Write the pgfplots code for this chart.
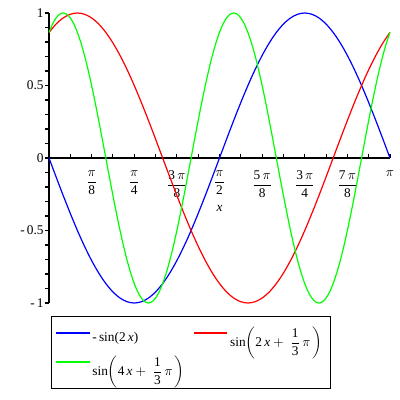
\documentclass[border=0pt]{standalone}
\usepackage{amsmath}
\usepackage{fontspec}
\setmainfont{Liberation Serif}
\usepackage{pgfplots}
\pgfplotsset{compat=1.18}
\usepackage{pgfplotstable}

\pgfplotstableread{
x blue red
0 0 0.866
0.06545 -0.1305 0.9239
0.1309 -0.2588 0.9659
0.19635 -0.3827 0.9914
0.2618 -0.5 1
0.32725 -0.6088 0.9914
0.3927 -0.7071 0.9659
0.45815 -0.7934 0.9239
0.5236 -0.866 0.866
0.58905 -0.9239 0.7934
0.6545 -0.9659 0.7071
0.71995 -0.9914 0.6088
0.7854 -1 0.5
0.85085 -0.9914 0.3827
0.9163 -0.9659 0.2588
0.98175 -0.9239 0.1305
1.0472 -0.866 0
1.11265 -0.7934 -0.1305
1.1781 -0.7071 -0.2588
1.24355 -0.6088 -0.3827
1.309 -0.5 -0.5
1.37445 -0.3827 -0.6088
1.4399 -0.2588 -0.7071
1.50535 -0.1305 -0.7934
1.5708 0 -0.866
1.63625 0.1305 -0.9239
1.7017 0.2588 -0.9659
1.76715 0.3827 -0.9914
1.8326 0.5 -1
1.89805 0.6088 -0.9914
1.9635 0.7071 -0.9659
2.02895 0.7934 -0.9239
2.0944 0.866 -0.866
2.15985 0.9239 -0.7934
2.2253 0.9659 -0.7071
2.29075 0.9914 -0.6088
2.3562 1 -0.5
2.42165 0.9914 -0.3827
2.4871 0.9659 -0.2588
2.55255 0.9239 -0.1305
2.618 0.866 0
2.68345 0.7934 0.1305
2.7489 0.7071 0.2588
2.81435 0.6088 0.3827
2.8798 0.5 0.5
2.94525 0.3827 0.6088
3.0107 0.2588 0.7071
3.07615 0.1305 0.7934
3.14159 0 0.866
}\tabBR

\pgfplotstableread{
x green
0 0.866
0.03272 0.9239
0.06545 0.9659
0.09817 0.9914
0.1309 1
0.16362 0.9914
0.19635 0.9659
0.22907 0.9239
0.2618 0.866
0.29452 0.7934
0.32725 0.7071
0.35997 0.6088
0.3927 0.5
0.42542 0.3827
0.45815 0.2588
0.49087 0.1305
0.5236 0
0.55632 -0.1305
0.58905 -0.2588
0.62177 -0.3827
0.6545 -0.5
0.68722 -0.6088
0.71995 -0.7071
0.75267 -0.7934
0.7854 -0.866
0.81812 -0.9239
0.85085 -0.9659
0.88357 -0.9914
0.9163 -1
0.94902 -0.9914
0.98175 -0.9659
1.01447 -0.9239
1.0472 -0.866
1.07992 -0.7934
1.11265 -0.7071
1.14537 -0.6088
1.1781 -0.5
1.21082 -0.3827
1.24355 -0.2588
1.27627 -0.1305
1.309 0
1.34172 0.1305
1.37445 0.2588
1.40717 0.3827
1.4399 0.5
1.47262 0.6088
1.50535 0.7071
1.53807 0.7934
1.5708 0.866
1.60352 0.9239
1.63625 0.9659
1.66897 0.9914
1.7017 1
1.73442 0.9914
1.76715 0.9659
1.79987 0.9239
1.8326 0.866
1.86532 0.7934
1.89805 0.7071
1.93077 0.6088
1.9635 0.5
1.99622 0.3827
2.02895 0.2588
2.06167 0.1305
2.0944 0
2.12712 -0.1305
2.15985 -0.2588
2.19257 -0.3827
2.2253 -0.5
2.25802 -0.6088
2.29075 -0.7071
2.32347 -0.7934
2.3562 -0.866
2.38892 -0.9239
2.42165 -0.9659
2.45437 -0.9914
2.4871 -1
2.51982 -0.9914
2.55255 -0.9659
2.58527 -0.9239
2.618 -0.866
2.65072 -0.7934
2.68345 -0.7071
2.71617 -0.6088
2.7489 -0.5
2.78162 -0.3827
2.81435 -0.2588
2.84707 -0.1305
2.8798 0
2.91252 0.1305
2.94525 0.2588
2.97797 0.3827
3.0107 0.5
3.04342 0.6088
3.07615 0.7071
3.10887 0.7934
3.14159 0.866
}\tabG

\definecolor{mblue}{RGB}{0,0,255}
\definecolor{mred}{RGB}{255,0,0}
\definecolor{mgreen}{RGB}{0,255,0}

\begin{document}
\begin{tikzpicture}[x=1pt,y=1pt]
\path[use as bounding box] (0,0) rectangle (300,300);
\begin{axis}[
  at={(36.75pt,72.75pt)}, anchor=south west,
  scale only axis, width=255.75pt, height=217.5pt,
  xmin=0, xmax=3.14159, ymin=-1, ymax=1,
  axis x line=middle, axis y line=left,
  axis line style={line width=0.8pt, -},
  clip=false,
  xtick={0.392699,0.785398,1.178097,1.570796,1.963495,2.356194,2.748894,3.141593},
  xticklabels={$\dfrac{\pi}{\textrm{8}}$, $\dfrac{\pi}{\textrm{4}}$, $\dfrac{\textrm{3}\,\pi}{\textrm{8}}$, $\dfrac{\pi}{\textrm{2}}$, $\dfrac{\textrm{5}\,\pi}{\textrm{8}}$, $\dfrac{\textrm{3}\,\pi}{\textrm{4}}$, $\dfrac{\textrm{7}\,\pi}{\textrm{8}}$, $\pi$},
  minor xtick={0.19635,0.589049,0.981748,1.374447,1.767146,2.159845,2.552544,2.945243},
  ytick={-1,-0.5,0,0.5,1},
  yticklabels={-\,1,-\,0.5,0,0.5,1},
  minor y tick num=4,
  hide obscured x ticks=false, hide obscured y ticks=false,
  xtick align=inside, ytick align=outside,
  major tick length=3pt, minor tick length=3pt,
  every tick/.append style={black, line width=0.8pt},
  every minor tick/.append style={black, line width=0.8pt},
  tick label style={font=\fontsize{10}{12}\selectfont},
  xticklabel style={anchor=north, yshift=-6pt},
  yticklabel style={anchor=east, xshift=2.5pt},
  xlabel={\textit{x}},
  xlabel style={at={(axis description cs:0.5,0.5)}, anchor=center, yshift=-37.5pt, font=\fontsize{10}{12}\selectfont},
  legend columns=2,
  legend cell align=left,
  legend style={at={(axis description cs:0.0053,-0.0448)}, anchor=north west,
    font=\fontsize{10}{12}\selectfont,
    inner xsep=4pt, inner ysep=6pt, row sep=2pt,
    /tikz/every even column/.append style={column sep=5pt}},
]
\addplot[draw=mblue, line width=0.9pt, smooth,
  legend image code/.code={\node[inner sep=0pt, anchor=west] at (0pt,0.3em) {\textcolor{mblue}{\rule{25pt}{1.5pt}}};}]
  table[x=x, y=blue] {\tabBR};
\addlegendentry{-\,sin(2\,\textit{x})}
\addplot[draw=mred, line width=0.9pt, smooth,
  legend image code/.code={\node[inner sep=0pt, anchor=west] at (0pt,0.3em) {\textcolor{mred}{\rule{25pt}{1.5pt}}};}]
  table[x=x, y=red] {\tabBR};
\addlegendentry{sin$\left(\textrm{2}\,\textit{x}+\;\dfrac{\textrm{1}}{\textrm{3}}\,\pi\,\right)$}
\addplot[draw=mgreen, line width=0.9pt, smooth,
  legend image code/.code={\node[inner sep=0pt, anchor=west] at (0pt,0.3em) {\textcolor{mgreen}{\rule{25pt}{1.5pt}}};}]
  table[x=x, y=green] {\tabG};
\addlegendentry{sin$\left(\textrm{4}\,\textit{x}+\;\dfrac{\textrm{1}}{\textrm{3}}\,\pi\,\right)$}
\end{axis}
\end{tikzpicture}
\end{document}
